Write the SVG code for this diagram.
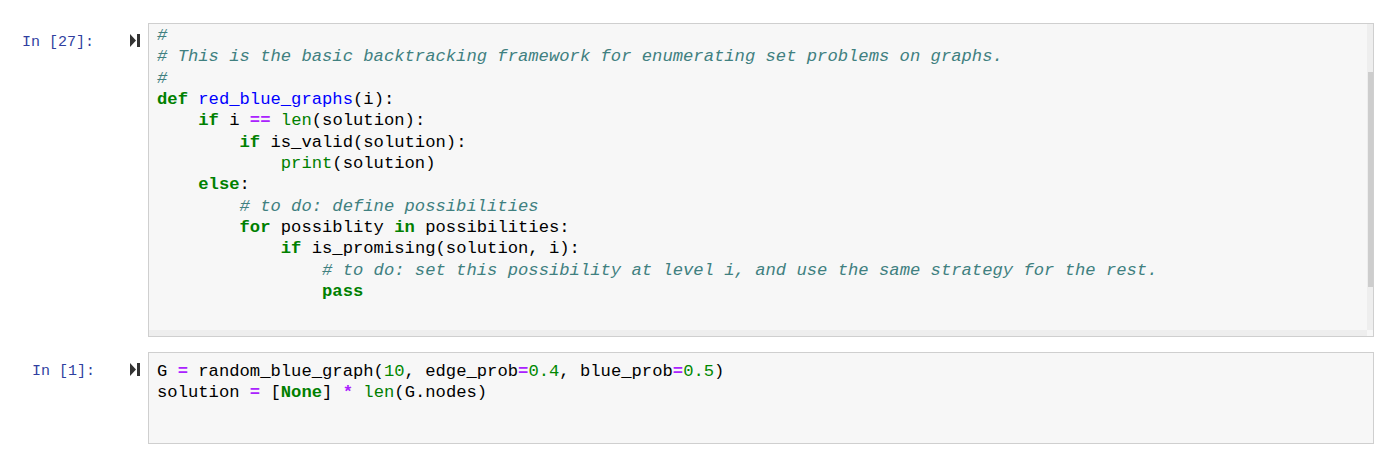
<svg xmlns="http://www.w3.org/2000/svg" width="1396" height="459" viewBox="0 0 1396 459">
<style>
.code{font-family:"Liberation Mono",monospace;font-size:17.2px;fill:#000;white-space:pre}
.c{fill:#408080;font-style:italic}
.k{fill:#008000;font-weight:bold}
.b{fill:#008000}
.o{fill:#AA22FF;font-weight:bold}
.n{fill:#008800}
.p{font-family:"Liberation Mono",monospace;font-size:15px;fill:#303F9F}
.cell{fill:#f7f7f7;stroke:#cfcfcf;stroke-width:1}
</style>
<rect width="1396" height="459" fill="#fff"/>
<g id="cell1">
<text class="p" x="22" y="46">In [27]:</text>
<path d="M130 34 L130 47 L136 40.5 Z M137 34 L140 34 L140 47 L137 47 Z" fill="#333"/>
<rect class="cell" x="148.5" y="23.5" width="1225" height="313"/>
<rect x="1367" y="24" width="6" height="306" fill="#eeeeee"/>
<rect x="1368" y="72" width="5" height="215" fill="#cdcdcd"/>
<rect x="149" y="330" width="1218" height="6" fill="#eeeeee"/>
<text class="code" xml:space="preserve"><tspan x="157" y="40" class="c">#</tspan><tspan x="157" y="61.3" class="c"># This is the basic backtracking framework for enumerating set problems on graphs.</tspan><tspan x="157" y="82.7" class="c">#</tspan><tspan x="157" y="104"><tspan class="k">def</tspan> <tspan fill="#0000FF">red_blue_graphs</tspan>(i):</tspan><tspan x="157" y="125.3">    <tspan class="k">if</tspan> i <tspan class="o">==</tspan> <tspan class="b">len</tspan>(solution):</tspan><tspan x="157" y="146.7">        <tspan class="k">if</tspan> is_valid(solution):</tspan><tspan x="157" y="168">            <tspan class="b">print</tspan>(solution)</tspan><tspan x="157" y="189.3">    <tspan class="k">else</tspan>:</tspan><tspan x="157" y="210.7">        <tspan class="c"># to do: define possibilities</tspan></tspan><tspan x="157" y="232">        <tspan class="k">for</tspan> possiblity <tspan class="k">in</tspan> possibilities:</tspan><tspan x="157" y="253.3">            <tspan class="k">if</tspan> is_promising(solution, i):</tspan><tspan x="157" y="274.7">                <tspan class="c"># to do: set this possibility at level i, and use the same strategy for the rest.</tspan></tspan><tspan x="157" y="296">                <tspan class="k">pass</tspan></tspan></text>
</g>
<g id="cell2">
<text class="p" x="32" y="375">In [1]:</text>
<path d="M130 363 L130 376 L136 369.5 Z M137 363 L140 363 L140 376 L137 376 Z" fill="#333"/>
<rect class="cell" x="148.5" y="352.5" width="1225" height="91"/>
<text class="code" xml:space="preserve"><tspan x="157" y="375.5">G <tspan class="o">=</tspan> random_blue_graph(<tspan class="n">10</tspan>, edge_prob<tspan class="o">=</tspan><tspan class="n">0.4</tspan>, blue_prob<tspan class="o">=</tspan><tspan class="n">0.5</tspan>)</tspan><tspan x="157" y="396.8">solution <tspan class="o">=</tspan> [<tspan class="k">None</tspan>] <tspan class="o">*</tspan> <tspan class="b">len</tspan>(G.nodes)</tspan></text>
</g>
<g id="connectors"/>
</svg>
